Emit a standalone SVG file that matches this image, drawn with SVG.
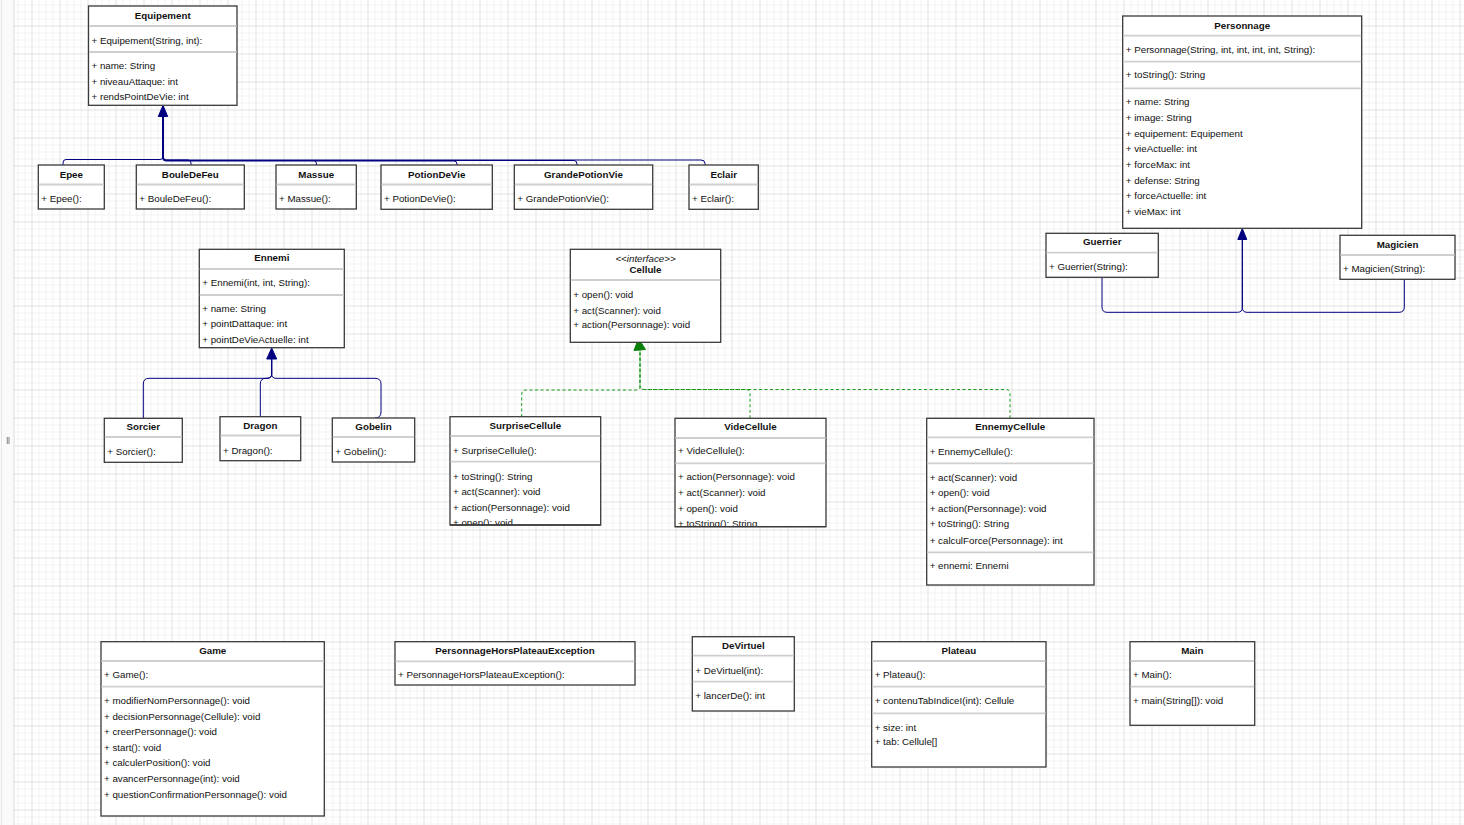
<svg xmlns="http://www.w3.org/2000/svg" width="1464" height="825" viewBox="0 0 1464 825">
<style>
.box{fill:#fff;stroke:#3a3a3a;stroke-width:1.3}
.sep{stroke:#cfcfcf;stroke-width:1.8}
.t{font-family:"Liberation Sans",Arial,Helvetica,sans-serif;font-size:9.75px;fill:#111}
.b{font-weight:bold;text-anchor:middle}
.i{font-style:italic;text-anchor:middle}
.inh{fill:none;stroke:#000080;stroke-width:1}
.real{fill:none;stroke:#1a9a1a;stroke-width:1;stroke-dasharray:3 2.5}
</style>
<defs>
<pattern id="grid" x="3.5" y="25.5" width="28" height="28" patternUnits="userSpaceOnUse">
<rect width="28" height="28" fill="#fff"/>
<rect x="7" y="0" width="1" height="28" fill="#f3f3f3"/>
<rect x="14" y="0" width="1" height="28" fill="#f3f3f3"/>
<rect x="21" y="0" width="1" height="28" fill="#f3f3f3"/>
<rect x="0" y="7" width="28" height="1" fill="#f3f3f3"/>
<rect x="0" y="14" width="28" height="1" fill="#f3f3f3"/>
<rect x="0" y="21" width="28" height="1" fill="#f3f3f3"/>
<rect x="0" y="0" width="1" height="28" fill="#e2e2e2"/>
<rect x="0" y="0" width="28" height="1" fill="#e2e2e2"/>
</pattern>
<clipPath id="cSurprise"><rect x="450" y="416" width="151" height="109"/></clipPath>
<clipPath id="cVide"><rect x="675" y="418" width="151" height="108.5"/></clipPath>
</defs>

<rect width="1464" height="825" fill="url(#grid)"/>
<rect x="0" y="0" width="14" height="825" fill="#fafafa"/>
<line x1="14" y1="0" x2="14" y2="825" stroke="#dcdcdc" stroke-width="1"/>
<line x1="1.5" y1="0" x2="1.5" y2="825" stroke="#e6e6e6" stroke-width="1"/>
<line x1="7.3" y1="437" x2="7.3" y2="444" stroke="#666" stroke-width="0.8"/>
<line x1="9" y1="437" x2="9" y2="444" stroke="#666" stroke-width="0.8"/>

<g id="connectors">
<path class="inh" d="M63,165 V163 Q63,159.5 66,159.5 H160 Q163,159.5 163,156.5 V116"/>
<path class="inh" d="M191,165 V163 Q191,160 188,160 H166 Q163,160 163,157 V116"/>
<path class="inh" d="M316.5,165 V164 Q316.5,160.5 313.5,160.5 H166 Q163.5,160.5 163.5,157.5 V116"/>
<path class="inh" d="M457,165 V164 Q457,161 454,161 H166 Q162.5,161 162.5,158 V116"/>
<path class="inh" d="M577,165 V164 Q577,160.5 574,160.5 H166 Q163.5,160.5 163.5,157.5 V116"/>
<path class="inh" d="M705,165 V163.5 Q705,160 701,160 H166 Q163,160 163,157 V116"/>
<polygon points="163,105.3 158.3,116.5 167.7,116.5" fill="#000080" stroke="#000080" stroke-width="1"/>

<path class="inh" d="M1102,277.3 V307 Q1102,312.3 1107,312.3 H1237.5 Q1242.3,312.3 1242.3,307.5 V239"/>
<path class="inh" d="M1404.3,279.3 V307 Q1404.3,312.3 1399,312.3 H1247 Q1242.3,312.3 1242.3,307.5 V239"/>
<polygon points="1242.3,228.5 1237.8,239.5 1246.8,239.5" fill="#000080" stroke="#000080" stroke-width="1"/>

<path class="inh" d="M143.3,418.3 V384 Q143.3,378.3 149,378.3 H267 Q271.7,378.3 271.7,374 V359"/>
<path class="inh" d="M260.3,416.7 V384 Q260.3,378.3 266,378.3 H267 Q271.7,378.3 271.7,374 V359"/>
<path class="inh" d="M375,418 Q381,418 381,412 V384 Q381,378.3 375,378.3 H276 Q271.7,378.3 271.7,374 V359"/>
<polygon points="271.7,348 266.7,359 276.7,359" fill="#000080" stroke="#000080" stroke-width="1"/>

<path class="real" d="M521.7,417 V394.5 Q521.7,390 526,390 H636 Q640,390 640,386 V350"/>
<path class="real" d="M750,418.3 V394 Q750,389.5 746,389.5 H644 Q640,389.5 640,385.5 V350"/>
<path class="real" d="M1010,418.3 V394 Q1010,389.5 1006,389.5 H644 Q640,389.5 640,385.5 V350"/>
<polygon points="638.5,338.5 634,350.5 645.5,349.5" fill="#0a800a" stroke="#0a800a" stroke-width="1"/>
</g>

<g id="Equipement">
<rect class="box" x="88.5" y="6" width="148.5" height="99.3"/>
<line class="sep" x1="89" y1="26" x2="236.5" y2="26"/>
<line class="sep" x1="89" y1="52" x2="236.5" y2="52"/>
<text class="t b" x="162.75" y="18.5">Equipement</text>
<text class="t" x="91.5" y="43.5">+ Equipement(String, int):</text>
<text class="t" x="91.5" y="68.5">+ name: String</text>
<text class="t" x="91.5" y="85.2">+ niveauAttaque: int</text>
<text class="t" x="91.5" y="100.2">+ rendsPointDeVie: int</text>
</g>

<g id="Epee">
<rect class="box" x="38.3" y="165" width="66" height="44"/>
<line class="sep" x1="38.8" y1="184.5" x2="103.8" y2="184.5"/>
<text class="t b" x="71.3" y="177.5">Epee</text>
<text class="t" x="41.3" y="201.5">+ Epee():</text>
</g>

<g id="BouleDeFeu">
<rect class="box" x="136.3" y="165" width="108" height="44"/>
<line class="sep" x1="136.8" y1="184.5" x2="243.8" y2="184.5"/>
<text class="t b" x="190.3" y="177.5">BouleDeFeu</text>
<text class="t" x="139.3" y="201.5">+ BouleDeFeu():</text>
</g>

<g id="Massue">
<rect class="box" x="276" y="165" width="80.3" height="44"/>
<line class="sep" x1="276.5" y1="184.5" x2="355.8" y2="184.5"/>
<text class="t b" x="316.2" y="177.5">Massue</text>
<text class="t" x="279" y="201.5">+ Massue():</text>
</g>

<g id="PotionDeVie">
<rect class="box" x="381" y="165" width="111.3" height="44.3"/>
<line class="sep" x1="381.5" y1="184.5" x2="491.8" y2="184.5"/>
<text class="t b" x="436.7" y="177.5">PotionDeVie</text>
<text class="t" x="384" y="201.5">+ PotionDeVie():</text>
</g>

<g id="GrandePotionVie">
<rect class="box" x="514.3" y="165" width="138.4" height="44.3"/>
<line class="sep" x1="514.8" y1="184.5" x2="652.2" y2="184.5"/>
<text class="t b" x="583.5" y="177.5">GrandePotionVie</text>
<text class="t" x="517.3" y="201.5">+ GrandePotionVie():</text>
</g>

<g id="Eclair">
<rect class="box" x="689" y="165" width="69.3" height="44.3"/>
<line class="sep" x1="689.5" y1="184.5" x2="757.8" y2="184.5"/>
<text class="t b" x="723.7" y="177.5">Eclair</text>
<text class="t" x="692" y="201.5">+ Eclair():</text>
</g>

<g id="Personnage">
<rect class="box" x="1122.7" y="16" width="239" height="212.3"/>
<line class="sep" x1="1123.2" y1="35.7" x2="1361.2" y2="35.7"/>
<line class="sep" x1="1123.2" y1="61.7" x2="1361.2" y2="61.7"/>
<line class="sep" x1="1123.2" y1="88.3" x2="1361.2" y2="88.3"/>
<text class="t b" x="1242.2" y="28.5">Personnage</text>
<text class="t" x="1125.8" y="52.5">+ Personnage(String, int, int, int, int, String):</text>
<text class="t" x="1125.8" y="78.2">+ toString(): String</text>
<text class="t" x="1125.8" y="105.2">+ name: String</text>
<text class="t" x="1125.8" y="120.8">+ image: String</text>
<text class="t" x="1125.8" y="136.5">+ equipement: Equipement</text>
<text class="t" x="1125.8" y="152.1">+ vieActuelle: int</text>
<text class="t" x="1125.8" y="167.8">+ forceMax: int</text>
<text class="t" x="1125.8" y="183.5">+ defense: String</text>
<text class="t" x="1125.8" y="199.1">+ forceActuelle: int</text>
<text class="t" x="1125.8" y="214.8">+ vieMax: int</text>
</g>

<g id="Guerrier">
<rect class="box" x="1046" y="233.3" width="112.3" height="44"/>
<line class="sep" x1="1046.5" y1="252.7" x2="1157.8" y2="252.7"/>
<text class="t b" x="1102.2" y="245.2">Guerrier</text>
<text class="t" x="1049" y="269.5">+ Guerrier(String):</text>
</g>

<g id="Magicien">
<rect class="box" x="1340" y="235.3" width="115" height="44"/>
<line class="sep" x1="1340.5" y1="255" x2="1454.5" y2="255"/>
<text class="t b" x="1397.5" y="247.5">Magicien</text>
<text class="t" x="1343" y="271.5">+ Magicien(String):</text>
</g>

<g id="Ennemi">
<rect class="box" x="199.3" y="249.3" width="145" height="98.4"/>
<line class="sep" x1="199.8" y1="269" x2="343.8" y2="269"/>
<line class="sep" x1="199.8" y1="295" x2="343.8" y2="295"/>
<text class="t b" x="271.8" y="261.2">Ennemi</text>
<text class="t" x="202.3" y="285.8">+ Ennemi(int, int, String):</text>
<text class="t" x="202.3" y="311.5">+ name: String</text>
<text class="t" x="202.3" y="327.2">+ pointDattaque: int</text>
<text class="t" x="202.3" y="342.8">+ pointDeVieActuelle: int</text>
</g>

<g id="Sorcier">
<rect class="box" x="104.3" y="418.3" width="78" height="44"/>
<line class="sep" x1="104.8" y1="437" x2="181.8" y2="437"/>
<text class="t b" x="143.3" y="430.2">Sorcier</text>
<text class="t" x="107.3" y="454.5">+ Sorcier():</text>
</g>

<g id="Dragon">
<rect class="box" x="220" y="416.7" width="80.7" height="44"/>
<line class="sep" x1="220.5" y1="435.5" x2="300.2" y2="435.5"/>
<text class="t b" x="260.3" y="428.5">Dragon</text>
<text class="t" x="223" y="453.5">+ Dragon():</text>
</g>

<g id="Gobelin">
<rect class="box" x="332.3" y="418" width="82.4" height="44"/>
<line class="sep" x1="332.8" y1="437" x2="414.2" y2="437"/>
<text class="t b" x="373.5" y="430.2">Gobelin</text>
<text class="t" x="335.3" y="454.5">+ Gobelin():</text>
</g>

<g id="Cellule">
<rect class="box" x="570.3" y="249.3" width="150.4" height="93"/>
<line class="sep" x1="570.8" y1="280" x2="720.2" y2="280"/>
<text class="t i" x="645.5" y="261.5">&lt;&lt;interface&gt;&gt;</text>
<text class="t b" x="645.5" y="272.8">Cellule</text>
<text class="t" x="573.3" y="297.5">+ open(): void</text>
<text class="t" x="573.3" y="313.5">+ act(Scanner): void</text>
<text class="t" x="573.3" y="328.2">+ action(Personnage): void</text>
</g>

<g id="SurpriseCellule">
<rect class="box" x="450" y="416.7" width="150.7" height="108.3"/>
<line class="sep" x1="450.5" y1="436" x2="600.2" y2="436"/>
<line class="sep" x1="450.5" y1="461.7" x2="600.2" y2="461.7"/>
<text class="t b" x="525.3" y="428.5">SurpriseCellule</text>
<g clip-path="url(#cSurprise)">
<text class="t" x="453" y="454.2">+ SurpriseCellule():</text>
<text class="t" x="453" y="479.5">+ toString(): String</text>
<text class="t" x="453" y="495.2">+ act(Scanner): void</text>
<text class="t" x="453" y="510.5">+ action(Personnage): void</text>
<text class="t" x="453" y="526.2">+ open(): void</text>
</g>
<line x1="450" y1="525" x2="600.7" y2="525" stroke="#3a3a3a" stroke-width="1.3"/>
</g>

<g id="VideCellule">
<rect class="box" x="675" y="418.3" width="151" height="108.4"/>
<line class="sep" x1="675.5" y1="438" x2="825.5" y2="438"/>
<line class="sep" x1="675.5" y1="463.3" x2="825.5" y2="463.3"/>
<text class="t b" x="750.5" y="430.2">VideCellule</text>
<g clip-path="url(#cVide)">
<text class="t" x="678" y="454.2">+ VideCellule():</text>
<text class="t" x="678" y="480.2">+ action(Personnage): void</text>
<text class="t" x="678" y="496.2">+ act(Scanner): void</text>
<text class="t" x="678" y="511.8">+ open(): void</text>
<text class="t" x="678" y="527.2">+ toString(): String</text>
</g>
<line x1="675" y1="526.7" x2="826" y2="526.7" stroke="#3a3a3a" stroke-width="1.3"/>
</g>

<g id="EnnemyCellule">
<rect class="box" x="926.7" y="418.3" width="167.3" height="166.7"/>
<line class="sep" x1="927.2" y1="437.3" x2="1093.5" y2="437.3"/>
<line class="sep" x1="927.2" y1="463.3" x2="1093.5" y2="463.3"/>
<line class="sep" x1="927.2" y1="552.3" x2="1093.5" y2="552.3"/>
<text class="t b" x="1010.3" y="430.2">EnnemyCellule</text>
<text class="t" x="929.7" y="454.5">+ EnnemyCellule():</text>
<text class="t" x="929.7" y="480.5">+ act(Scanner): void</text>
<text class="t" x="929.7" y="496.2">+ open(): void</text>
<text class="t" x="929.7" y="511.8">+ action(Personnage): void</text>
<text class="t" x="929.7" y="527.2">+ toString(): String</text>
<text class="t" x="929.7" y="543.5">+ calculForce(Personnage): int</text>
<text class="t" x="929.7" y="569.2">+ ennemi: Ennemi</text>
</g>

<g id="Game">
<rect class="box" x="101" y="641.7" width="223.3" height="174.3"/>
<line class="sep" x1="101.5" y1="661" x2="323.8" y2="661"/>
<line class="sep" x1="101.5" y1="686.7" x2="323.8" y2="686.7"/>
<text class="t b" x="212.7" y="653.5">Game</text>
<text class="t" x="104" y="677.5">+ Game():</text>
<text class="t" x="104" y="703.5">+ modifierNomPersonnage(): void</text>
<text class="t" x="104" y="719.5">+ decisionPersonnage(Cellule): void</text>
<text class="t" x="104" y="735.2">+ creerPersonnage(): void</text>
<text class="t" x="104" y="750.5">+ start(): void</text>
<text class="t" x="104" y="766.2">+ calculerPosition(): void</text>
<text class="t" x="104" y="781.8">+ avancerPersonnage(int): void</text>
<text class="t" x="104" y="798.2">+ questionConfirmationPersonnage(): void</text>
</g>

<g id="PersonnageHorsPlateauException">
<rect class="box" x="395" y="641.7" width="240" height="43.3"/>
<line class="sep" x1="395.5" y1="661.3" x2="634.5" y2="661.3"/>
<text class="t b" x="515" y="653.5">PersonnageHorsPlateauException</text>
<text class="t" x="398" y="677.5">+ PersonnageHorsPlateauException():</text>
</g>

<g id="DeVirtuel">
<rect class="box" x="692.3" y="636.7" width="102" height="74.3"/>
<line class="sep" x1="692.8" y1="655.7" x2="793.8" y2="655.7"/>
<line class="sep" x1="692.8" y1="681.7" x2="793.8" y2="681.7"/>
<text class="t b" x="743.3" y="648.5">DeVirtuel</text>
<text class="t" x="695.3" y="673.5">+ DeVirtuel(int):</text>
<text class="t" x="695.3" y="698.5">+ lancerDe(): int</text>
</g>

<g id="Plateau">
<rect class="box" x="871.7" y="641.7" width="174.3" height="125.3"/>
<line class="sep" x1="872.2" y1="661" x2="1045.5" y2="661"/>
<line class="sep" x1="872.2" y1="686.7" x2="1045.5" y2="686.7"/>
<line class="sep" x1="872.2" y1="713.3" x2="1045.5" y2="713.3"/>
<text class="t b" x="958.8" y="653.5">Plateau</text>
<text class="t" x="874.7" y="677.5">+ Plateau():</text>
<text class="t" x="874.7" y="703.5">+ contenuTabIndiceI(int): Cellule</text>
<text class="t" x="874.7" y="730.5">+ size: int</text>
<text class="t" x="874.7" y="745.2">+ tab: Cellule[]</text>
</g>

<g id="Main">
<rect class="box" x="1130" y="641.7" width="124.7" height="83.6"/>
<line class="sep" x1="1130.5" y1="661" x2="1254.2" y2="661"/>
<line class="sep" x1="1130.5" y1="686.7" x2="1254.2" y2="686.7"/>
<text class="t b" x="1192.3" y="653.5">Main</text>
<text class="t" x="1133" y="677.5">+ Main():</text>
<text class="t" x="1133" y="703.5">+ main(String[]): void</text>
</g>
</svg>
